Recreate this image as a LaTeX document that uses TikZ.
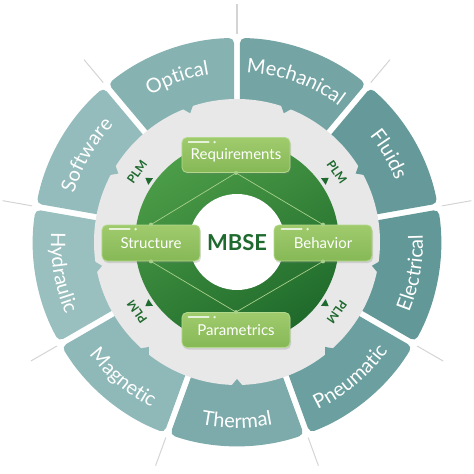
\documentclass[tikz,border=0pt]{standalone}
\usepackage{fontspec}
\setmainfont{Lato}
\usetikzlibrary{decorations.text,shadows,calc}
\definecolor{teallight}{HTML}{9CC1C1}
\definecolor{tealdark}{HTML}{5F9595}
\definecolor{ringgray}{HTML}{E8E8E8}
\definecolor{gapline}{HTML}{D4D4D4}
\definecolor{greenlight}{HTML}{4C9D48}
\definecolor{greendark}{HTML}{1F6A2B}
\definecolor{mbsegreen}{HTML}{1F6A2E}
\definecolor{boxtop}{HTML}{A0CB6D}
\definecolor{boxbot}{HTML}{86B856}
\definecolor{boxedge}{HTML}{B2D98B}
\definecolor{linkgreen}{HTML}{A8D08A}
\newcommand\segfont{\fontsize{20}{20}\selectfont}
\newcommand\segup[2]{\path[decorate,decoration={text along path,text={|\segfont|#2},text align=center,text color=white}] ({#1+20}:170) arc[start angle={#1+20},end angle={#1-20},radius=170];}
\newcommand\segdown[2]{\path[decorate,decoration={text along path,text={|\segfont|#2},text align=center,text color=white}] ({#1-20}:186) arc[start angle={#1-20},end angle={#1+20},radius=186];}
\begin{document}
\begin{tikzpicture}[x=1pt,y=1pt,
  boxnode/.style={draw=boxedge, line width=0.8pt, rounded corners=5pt, top color=boxtop, bottom color=boxbot, text=white, font=\fontsize{15}{15}\selectfont, inner sep=0pt, drop shadow={opacity=0.25,shadow xshift=1pt,shadow yshift=-2pt}},
  wide/.style={minimum width=108pt, minimum height=35pt},
  narrow/.style={minimum width=98pt, minimum height=36pt},
  link/.style={linkgreen, line width=0.7pt},
  linkdot/.style={fill=linkgreen},
  bar/.style={white, opacity=0.75, line width=2pt, line cap=round},
  plm/.style={font=\bfseries\fontsize{12}{12}\selectfont, text=mbsegreen, inner sep=0pt}
]
\useasboundingbox (-237,-232) rectangle (237,242);
% outer segments
\foreach \a in {90,50,10,-30,-70,-110,-150,-190,-230}{
  \pgfmathsetmacro\c{\a-20}
  \pgfmathsetmacro\p{int(50+45*cos(\c))}
  \pgfmathsetmacro\bi{\a-40+asin(3/138)}
  \pgfmathsetmacro\bo{\a-40+asin(3/204)}
  \pgfmathsetmacro\eo{\a-asin(3/204)}
  \pgfmathsetmacro\ei{\a-asin(3/138)}
  \fill[tealdark!\p!teallight, rounded corners=5pt] (\bi:138) -- (\bo:204) arc[start angle=\bo, end angle=\eo, radius=204] -- (\ei:138) arc[start angle=\ei, end angle=\bi, radius=138] -- cycle;
  \draw[gapline, line width=1pt] (\a:208) -- (\a:238);
}
% gray ring
\fill[ringgray] (0,0) circle[radius=143];
\foreach \a in {90,50,10,-30,-70,-110,-150,-190,-230}{
  \pgfmathsetmacro\c{\a-20}
  \pgfmathsetmacro\p{int(50+45*cos(\c))}
  \fill[tealdark!\p!teallight] (\c:137) -- ({\c+2.3}:144) -- ({\c-2.3}:144) -- cycle;
}
% segment labels
\segup{150}{Software}
\segup{110}{Optical}
\segup{70}{Mechanical}
\segup{30}{Fluids}
\segdown{-10}{Electrical}
\segdown{-50}{Pneumatic}
\segdown{-90}{Thermal}
\segdown{-130}{Magnetic}
\segdown{-170}{Hydraulic}
% green ring
\begin{scope}
  \clip (0,0) circle[radius=102];
  \shade[top color=greenlight, bottom color=greendark, shading angle=30] (-102,-102) rectangle (102,102);
\end{scope}
\fill[white] (0,0) circle[radius=48];
% PLM labels
\foreach \c in {145,35,-35,-145}{
  \node[plm, rotate=\c-90] (plm\c) at (\c:122) {PLM};
  \fill[mbsegreen] (\c:112) -- ({\c+2.2}:105.5) -- ({\c-2.2}:105.5) -- cycle;
}
% MBSE
\node[font=\bfseries\fontsize{22}{22}\selectfont, text=mbsegreen] (mbse) at (0,-1) {MBSE};
% boxes
\node[boxnode, wide] (req) at (-1,87) {Requirements};
\node[boxnode, wide] (par) at (-1,-88) {Parametrics};
\node[boxnode, narrow] (str) at (-86,-1) {Structure};
\node[boxnode, narrow] (beh) at (86,-1) {Behavior};
% links
\draw[link] (req.south) -- (str.north);
\draw[link] (req.south) -- (beh.north);
\draw[link] (str.south) -- (par.north);
\draw[link] (beh.south) -- (par.north);
\foreach \n in {req.south,str.north,beh.north,str.south,beh.south,par.north}{
  \fill[linkdot] (\n) circle[radius=2];
}
% box bars
\foreach \b in {req,par}{
  \draw[bar] ($(\b.north west)+(7,-5)$) -- ++(20,0);
  \fill[white,opacity=0.75] ($(\b.north west)+(33,-5)$) circle[radius=1.4];
}
\foreach \b in {str,beh}{
  \draw[bar] ($(\b.north west)+(8,-4.5)$) -- ++(20,0);
  \fill[white,opacity=0.75] ($(\b.north west)+(34,-4.5)$) circle[radius=1.4];
}
\end{tikzpicture}
\end{document}
